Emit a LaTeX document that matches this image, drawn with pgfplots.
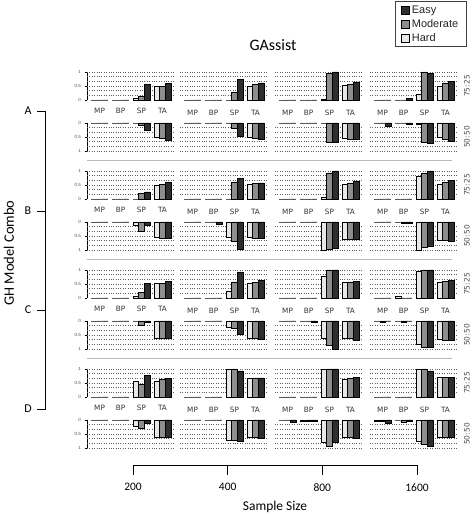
\documentclass[border=0pt]{standalone}
\usepackage{pgfplots}
\pgfplotsset{compat=1.18}
\usepackage{fontspec}
\setmainfont{Carlito}
\newfontfamily\arialf{Liberation Sans}
\newfontfamily\dejavu{DejaVu Sans}
\definecolor{cHard}{HTML}{E8E8E8}
\definecolor{cMod}{HTML}{8E8E8E}
\definecolor{cEasy}{HTML}{2E2E2E}
\definecolor{gridc}{HTML}{606060}

\pgfplotsset{
 panel/.style={
  scale only axis, width=88bp, height=28bp,
  xmin=-0.6, xmax=3.6, ymin=0, ymax=1, clip=false,
  ybar=0pt, bar width=5.6bp,
  axis x line*=bottom, axis y line*=left,
  x axis line style={draw=none}, y axis line style={draw=none},
  xtick style={draw=none},
  ytick=\empty,
  extra y ticks={0.1667,0.3333,0.5,0.6667,0.8333,1},
  extra y tick labels={},
  extra y tick style={major tick length=0pt, grid=major,
     major grid style={dotted, gridc, line width=0.5bp}},
  xticklabel style={font=\dejavu\fontsize{7.3}{8}\selectfont, text=black!80, yshift=-2.5bp},
 },
 toppanel/.style={panel, anchor=south west, xtick={0,1,2,3}, xticklabels={MP,BP,SP,TA}},
 botpanel/.style={panel, anchor=north west, y dir=reverse, xtick=\empty},
 firstcol/.style={y axis line style={draw=black, line width=0.5bp},
   ytick={0,0.5,1}, yticklabels={0,0.5,1}, tick align=outside,
   major tick length=2.5bp, ytick style={draw=black, line width=0.5bp},
   yticklabel style={font=\arialf\fontsize{4.5}{5}\selectfont, text=black!70}},
}

\newcommand{\TP}[6]{\begin{axis}[toppanel, at={(#1bp,#2bp)}, #3]
\addplot[fill=cHard,draw=black,line width=0.45bp] coordinates {#4};
\addplot[fill=cMod,draw=black,line width=0.45bp] coordinates {#5};
\addplot[fill=cEasy,draw=black,line width=0.45bp] coordinates {#6};
\end{axis}}
\newcommand{\BP}[6]{\begin{axis}[botpanel, at={(#1bp,#2bp)}, #3]
\addplot[fill=cHard,draw=black,line width=0.45bp] coordinates {#4};
\addplot[fill=cMod,draw=black,line width=0.45bp] coordinates {#5};
\addplot[fill=cEasy,draw=black,line width=0.45bp] coordinates {#6};
\end{axis}}

\begin{document}
\begin{tikzpicture}
\useasboundingbox (0bp,0bp) rectangle (474bp,515bp);

% ---------------- Row A ----------------
\TP{87}{415}{firstcol}{(0,0)(1,0)(2,0.07)(3,0.50)}{(0,0)(1,0)(2,0.14)(3,0.50)}{(0,0)(1,0)(2,0.55)(3,0.60)}
\TP{180}{415}{}{(0,0)(1,0)(2,0)(3,0.50)}{(0,0)(1,0)(2,0.27)(3,0.55)}{(0,0)(1,0)(2,0.74)(3,0.61)}
\TP{275}{415}{}{(0,0)(1,0)(2,0.03)(3,0.52)}{(0,0)(1,0)(2,0.94)(3,0.58)}{(0,0)(1,0)(2,1.00)(3,0.65)}
\TP{370}{415}{}{(0,0)(1,0)(2,0.19)(3,0.50)}{(0,0)(1,0)(2,1.00)(3,0.61)}{(0,0)(1,0.06)(2,0.95)(3,0.66)}
\BP{87}{392}{firstcol}{(0,0)(1,0)(2,0)(3,0.50)}{(0,0)(1,0)(2,0.07)(3,0.53)}{(0,0)(1,0)(2,0.26)(3,0.61)}
\BP{180}{392}{}{(0,0)(1,0)(2,0)(3,0.50)}{(0,0)(1,0)(2,0.18)(3,0.53)}{(0,0)(1,0)(2,0.46)(3,0.59)}
\BP{275}{392}{}{(0,0)(1,0)(2,0)(3,0.53)}{(0,0)(1,0)(2,0.69)(3,0.57)}{(0,0)(1,0)(2,0.69)(3,0.59)}
\BP{370}{392}{}{(0,0)(1,0)(2,0.05)(3,0.52)}{(0,0)(1,0)(2,0.67)(3,0.57)}{(0,0.13)(1,0.05)(2,0.73)(3,0.64)}

% ---------------- Row B ----------------
\TP{87}{316}{firstcol}{(0,0)(1,0)(2,0)(3,0.50)}{(0,0)(1,0)(2,0.20)(3,0.52)}{(0,0)(1,0)(2,0.25)(3,0.59)}
\TP{180}{316}{}{(0,0)(1,0)(2,0)(3,0.52)}{(0,0)(1,0)(2,0.61)(3,0.56)}{(0,0)(1,0)(2,0.74)(3,0.58)}
\TP{275}{316}{}{(0,0)(1,0)(2,0.05)(3,0.52)}{(0,0)(1,0)(2,0.93)(3,0.58)}{(0,0)(1,0)(2,1.00)(3,0.65)}
\TP{370}{316}{}{(0,0)(1,0)(2,0.80)(3,0.54)}{(0,0)(1,0)(2,0.93)(3,0.60)}{(0,0)(1,0)(2,1.00)(3,0.66)}
\BP{87}{293}{firstcol}{(0,0)(1,0)(2,0.10)(3,0.55)}{(0,0)(1,0)(2,0.33)(3,0.57)}{(0,0)(1,0)(2,0.12)(3,0.57)}
\BP{180}{293}{}{(0,0)(1,0)(2,0.53)(3,0.55)}{(0,0)(1,0)(2,0.70)(3,0.57)}{(0,0)(1,0.07)(2,0.97)(3,0.57)}
\BP{275}{293}{}{(0,0)(1,0)(2,1.00)(3,0.62)}{(0,0)(1,0)(2,0.97)(3,0.62)}{(0,0)(1,0)(2,0.93)(3,0.62)}
\BP{370}{293}{}{(0,0)(1,0)(2,1.00)(3,0.65)}{(0,0)(1,0.03)(2,0.90)(3,0.65)}{(0,0)(1,0.05)(2,0.85)(3,0.68)}

% ---------------- Row C ----------------
\TP{87}{217}{firstcol}{(0,0)(1,0)(2,0.07)(3,0.52)}{(0,0)(1,0)(2,0.20)(3,0.53)}{(0,0)(1,0)(2,0.53)(3,0.59)}
\TP{180}{217}{}{(0,0)(1,0)(2,0.25)(3,0.53)}{(0,0)(1,0)(2,0.58)(3,0.55)}{(0,0)(1,0)(2,0.93)(3,0.62)}
\TP{275}{217}{}{(0,0)(1,0)(2,0.78)(3,0.55)}{(0,0)(1,0)(2,1.00)(3,0.58)}{(0,0)(1,0)(2,1.00)(3,0.60)}
\TP{370}{217}{}{(0,0)(1,0.06)(2,0.95)(3,0.57)}{(0,0)(1,0)(2,1.00)(3,0.60)}{(0,0)(1,0)(2,1.00)(3,0.63)}
\BP{87}{194}{firstcol}{(0,0)(1,0)(2,0)(3,0.62)}{(0,0)(1,0)(2,0.15)(3,0.62)}{(0,0)(1,0)(2,0.06)(3,0.62)}
\BP{180}{194}{}{(0,0)(1,0)(2,0.22)(3,0.60)}{(0,0)(1,0)(2,0.27)(3,0.62)}{(0,0)(1,0)(2,0.47)(3,0.65)}
\BP{275}{194}{}{(0,0)(1,0)(2,0.60)(3,0.62)}{(0,0)(1,0)(2,0.85)(3,0.62)}{(0,0)(1,0.05)(2,1.00)(3,0.68)}
\BP{370}{194}{}{(0,0)(1,0)(2,0.82)(3,0.65)}{(0,0.05)(1,0.05)(2,0.92)(3,0.70)}{(0,0)(1,0)(2,0.92)(3,0.70)}

% ---------------- Row D ----------------
\TP{87}{118}{firstcol}{(0,0)(1,0)(2,0.58)(3,0.58)}{(0,0)(1,0)(2,0.45)(3,0.62)}{(0,0)(1,0)(2,0.78)(3,0.66)}
\TP{180}{118}{}{(0,0)(1,0)(2,1.00)(3,0.66)}{(0,0)(1,0)(2,1.00)(3,0.68)}{(0,0)(1,0)(2,0.93)(3,0.68)}
\TP{275}{118}{}{(0,0)(1,0)(2,1.00)(3,0.65)}{(0,0)(1,0)(2,1.00)(3,0.68)}{(0,0)(1,0)(2,1.00)(3,0.70)}
\TP{370}{118}{}{(0,0)(1,0)(2,1.00)(3,0.70)}{(0,0)(1,0)(2,1.00)(3,0.70)}{(0,0)(1,0)(2,0.93)(3,0.70)}
\BP{87}{95}{firstcol}{(0,0)(1,0)(2,0.22)(3,0.60)}{(0,0)(1,0)(2,0.30)(3,0.60)}{(0,0)(1,0)(2,0.12)(3,0.60)}
\BP{180}{95}{}{(0,0)(1,0)(2,0.73)(3,0.62)}{(0,0)(1,0)(2,0.73)(3,0.62)}{(0,0)(1,0)(2,0.77)(3,0.65)}
\BP{275}{95}{}{(0,0)(1,0.03)(2,0.78)(3,0.62)}{(0,0)(1,0.04)(2,0.95)(3,0.62)}{(0,0.07)(1,0.04)(2,0.78)(3,0.65)}
\BP{370}{95}{}{(0,0.05)(1,0)(2,0.75)(3,0.60)}{(0,0.05)(1,0.07)(2,0.85)(3,0.60)}{(0,0.12)(1,0.03)(2,0.92)(3,0.60)}

% separators
\foreach \yy in {355,256,157}{\draw[gray!55, line width=0.9bp] (87bp,\yy bp) -- (452bp,\yy bp);}

% right labels
\foreach \yy in {429,330,231,132}{\node[rotate=90, font=\dejavu\fontsize{7.5}{8}\selectfont, text=black!70] at (467bp,\yy bp) {75:25};}
\foreach \yy in {378,279,180,81}{\node[rotate=90, font=\dejavu\fontsize{7.5}{8}\selectfont, text=black!70] at (467bp,\yy bp) {50:50};}

% left bracket
\draw[line width=0.6bp] (37bp,404bp) -- (45bp,404bp) -- (45bp,106bp) -- (37bp,106bp);
\draw[line width=0.6bp] (37bp,304bp) -- (45bp,304bp);
\draw[line width=0.6bp] (37bp,205bp) -- (45bp,205bp);
\node[font=\fontsize{12}{13}\selectfont] at (28bp,404bp) {A};
\node[font=\fontsize{12}{13}\selectfont] at (28bp,304bp) {B};
\node[font=\fontsize{12}{13}\selectfont] at (28bp,205bp) {C};
\node[font=\fontsize{12}{13}\selectfont] at (28bp,106bp) {D};
\node[rotate=90, font=\fontsize{14.5}{15}\selectfont] at (9bp,262bp) {GH Model Combo};

% title
\node[font=\fontsize{16}{17}\selectfont] at (273bp,470bp) {GAssist};

% bottom axis
\begin{axis}[at={(133bp,50bp)}, anchor=south west, scale only axis, width=284bp, height=10bp,
  xmin=0, xmax=3, ymin=0, ymax=1, axis x line*=bottom, axis y line=none,
  xtick={0,1,2,3}, xticklabels={200,400,800,1600}, tick align=outside,
  major tick length=10bp, xtick style={draw=black, line width=0.6bp},
  x axis line style={line width=0.6bp, -},
  xticklabel style={font=\fontsize{11.5}{12}\selectfont, yshift=-5bp},
  xlabel={Sample Size}, xlabel style={font=\fontsize{13.5}{14}\selectfont, yshift=-3bp}]
\end{axis}

% legend
\begin{axis}[at={(395bp,468bp)}, anchor=south west, scale only axis, width=1bp, height=1bp,
  hide axis, xmin=0, xmax=1, ymin=0, ymax=1,
  legend style={at={(0,0)}, anchor=south west, draw=black!75, line width=0.8bp,
     font=\arialf\fontsize{11}{12}\selectfont, row sep=0.5bp, inner xsep=6bp, inner ysep=2bp,
     text=black!85,
     /tikz/every even column/.append style={column sep=6bp}},
  legend cell align=left,
  legend image code/.code={\draw[#1, line width=0.5bp] (0bp,-4bp) rectangle (8bp,4bp);}]
\addlegendimage{fill=cEasy,draw=black}
\addlegendentry{Easy}
\addlegendimage{fill=cMod,draw=black}
\addlegendentry{Moderate}
\addlegendimage{fill=cHard,draw=black}
\addlegendentry{Hard}
\end{axis}
\end{tikzpicture}
\end{document}
